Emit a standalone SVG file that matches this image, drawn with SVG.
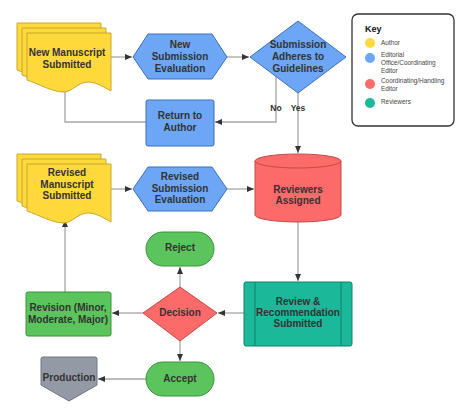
<svg xmlns="http://www.w3.org/2000/svg" width="474" height="419" viewBox="0 0 474 419">
<style>
text{font-family:"Liberation Sans",Arial,sans-serif;font-weight:bold;font-size:10px;fill:#333;text-anchor:middle}
.k{font-weight:normal;font-size:6.4px;text-anchor:start;fill:#444}
.kh{font-size:9px;text-anchor:start;fill:#111}
.y{fill:#fdd93c;stroke:#c9a82a;stroke-width:1}
.b{fill:#6ca6f5;stroke:#3d6fb8;stroke-width:1}
.r{fill:#fd6a6a;stroke:#c24b4b;stroke-width:1}
.g{fill:#5cc45c;stroke:#3b923b;stroke-width:1}
.t{fill:#1bb89a;stroke:#13806b;stroke-width:1}
.p{fill:#9399a5;stroke:#6f7480;stroke-width:1}
.c{fill:none;stroke:#a6a6a6;stroke-width:1.3}
</style>
<defs>
<marker id="ah" markerWidth="8" markerHeight="8" refX="7" refY="4" orient="auto" markerUnits="userSpaceOnUse">
<path d="M0,1 L7,4 L0,7 Z" fill="#333"/>
</marker>
<path id="doc" d="M0,0 H84 V58 C78,55 70,49 61,49 C51,49 45,59 37,59 C25,59 12,51 0,47 Z"/>
</defs>
<rect width="474" height="419" fill="#fff"/>

<g id="connectors">
<path class="c" d="M111,57 H132" marker-end="url(#ah)"/>
<path class="c" d="M227,57 H249" marker-end="url(#ah)"/>
<path class="c" d="M276,76 V122 H215" marker-end="url(#ah)"/>
<path class="c" d="M146,122 H65 V80" marker-end="url(#ah)"/>
<path class="c" d="M298,93 V153" marker-end="url(#ah)"/>
<path class="c" d="M111,189 H132" marker-end="url(#ah)"/>
<path class="c" d="M227,189 H254" marker-end="url(#ah)"/>
<path class="c" d="M298,222 V281" marker-end="url(#ah)"/>
<path class="c" d="M244,313 H218" marker-end="url(#ah)"/>
<path class="c" d="M180,287 V267" marker-end="url(#ah)"/>
<path class="c" d="M143,313 H112" marker-end="url(#ah)"/>
<path class="c" d="M65,292 V220" marker-end="url(#ah)"/>
<path class="c" d="M180,341 V361" marker-end="url(#ah)"/>
<path class="c" d="M146,379 H98" marker-end="url(#ah)"/>
<text x="276" y="111" style="font-size:8.5px">No</text>
<text x="298" y="111" style="font-size:8.5px">Yes</text>
</g>

<g id="new-manuscript">
<use href="#doc" class="y" transform="translate(17,23)"/>
<use href="#doc" class="y" transform="translate(22,28)"/>
<use href="#doc" class="y" transform="translate(27,33)"/>
<text x="67" y="56">New Manuscript</text>
<text x="67" y="68">Submitted</text>
</g>

<g id="new-eval">
<path class="b" d="M133,57 L148,34 H212 L227,57 L212,79 H148 Z"/>
<text x="180" y="48">New</text>
<text x="180" y="60">Submission</text>
<text x="180" y="72">Evaluation</text>
</g>

<g id="adheres">
<path class="b" d="M250,57 L298,21 L346,57 L298,93 Z"/>
<text x="298" y="48">Submission</text>
<text x="298" y="60">Adheres to</text>
<text x="298" y="72">Guidelines</text>
</g>

<g id="return-author">
<rect class="b" x="146" y="100" width="68" height="46" rx="2"/>
<text x="180" y="119">Return to</text>
<text x="180" y="131">Author</text>
</g>

<g id="key">
<rect x="352" y="14" width="102" height="112" rx="6" fill="#fff" stroke="#333" stroke-width="1.3"/>
<text class="kh" x="365" y="32">Key</text>
<circle cx="370" cy="43" r="5" fill="#fdd93c"/>
<circle cx="370" cy="58" r="5" fill="#6ca6f5"/>
<circle cx="370" cy="84" r="5" fill="#fd6a6a"/>
<circle cx="370" cy="103" r="5" fill="#1bb89a"/>
<text class="k" x="381" y="45">Author</text>
<text class="k" x="381" y="57">Editorial</text>
<text class="k" x="381" y="65">Office/Coordinating</text>
<text class="k" x="381" y="73">Editor</text>
<text class="k" x="381" y="83">Coordinating/Handling</text>
<text class="k" x="381" y="91">Editor</text>
<text class="k" x="381" y="104">Reviewers</text>
</g>

<g id="revised-manuscript">
<use href="#doc" class="y" transform="translate(17,154)"/>
<use href="#doc" class="y" transform="translate(22,159)"/>
<use href="#doc" class="y" transform="translate(27,164)"/>
<text x="67" y="176">Revised</text>
<text x="67" y="188">Manuscript</text>
<text x="67" y="199">Submitted</text>
</g>

<g id="revised-eval">
<path class="b" d="M133,189 L148,167 H212 L227,189 L212,211 H148 Z"/>
<text x="180" y="180">Revised</text>
<text x="180" y="192">Submission</text>
<text x="180" y="203">Evaluation</text>
</g>

<g id="reviewers-assigned">
<path class="r" d="M255,161 V215 A43,7 0 0 0 341,215 V161 A43,7 0 0 0 255,161 Z"/>
<path class="r" d="M255,161 A43,7 0 0 0 341,161"/>
<text x="298" y="193">Reviewers</text>
<text x="298" y="204">Assigned</text>
</g>

<g id="review-submitted">
<rect class="t" x="244" y="282" width="108" height="64" rx="2"/>
<path class="t" d="M255,282 V346 M341,282 V346"/>
<text x="298" y="305">Review &amp;</text>
<text x="298" y="316">Recommendation</text>
<text x="298" y="327">Submitted</text>
</g>

<g id="decision">
<path class="r" d="M143,313 L180,287 L217,313 L180,341 Z"/>
<text x="180" y="316">Decision</text>
</g>

<g id="reject">
<rect class="g" x="146" y="232" width="68" height="34" rx="17"/>
<text x="180" y="251">Reject</text>
</g>

<g id="revision">
<rect class="g" x="26" y="292" width="85" height="44" rx="2"/>
<text x="68" y="311">Revision (Minor,</text>
<text x="68" y="323">Moderate, Major)</text>
</g>

<g id="accept">
<rect class="g" x="146" y="362" width="68" height="34" rx="17"/>
<text x="180" y="382">Accept</text>
</g>

<g id="production">
<path class="p" d="M41,359 Q41,357 43,357 H95 Q97,357 97,359 V385 L69,401 L41,385 Z"/>
<text x="69" y="381">Production</text>
</g>
</svg>
